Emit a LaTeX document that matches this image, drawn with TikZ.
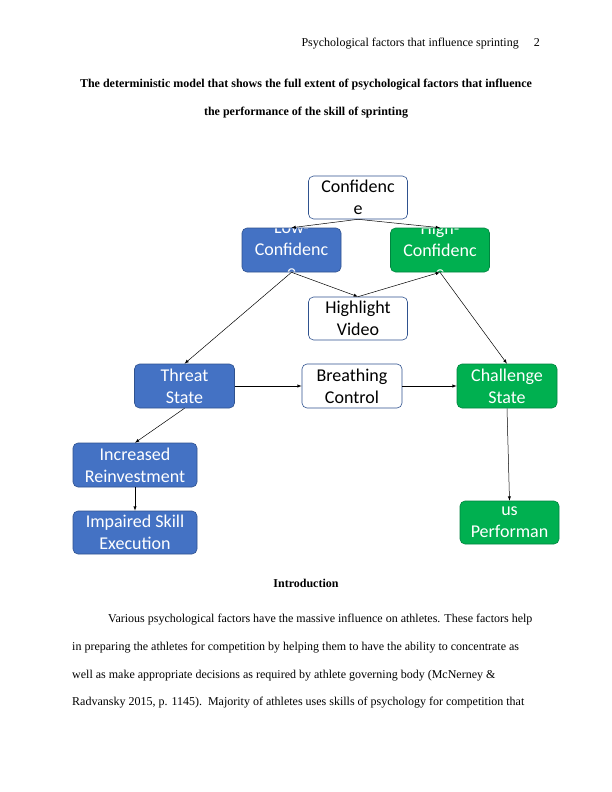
\documentclass[tikz,border=0pt]{standalone}
\usepackage{fontspec}
\setmainfont{Liberation Serif}
\newfontfamily\boxfont{Carlito}
\usetikzlibrary{arrows}
\definecolor{boxblue}{HTML}{4472C4}
\definecolor{boxgreen}{HTML}{00B050}
\definecolor{edgeblue}{HTML}{2F528F}
\definecolor{edgegreen}{HTML}{00843F}

\begin{document}
\begin{tikzpicture}[x=1pt,y=-1pt,>=latex,
  block/.style={rounded corners=5pt,minimum width=99pt,minimum height=43pt,inner sep=0pt,align=center,
    font=\boxfont\fontsize{18}{22}\selectfont,line width=0.6pt},
  whiteblock/.style={block,draw=edgeblue,fill=white,text=black},
  blueblock/.style={block,draw=edgeblue,fill=boxblue,text=white},
  greenblock/.style={block,draw=edgegreen,fill=boxgreen,text=white},
  cuttext/.style={path picture={\node[align=center,text=white,font=\boxfont\fontsize{18}{22}\selectfont]
    at (path picture bounding box.center) {#1};}},
  body/.style={font=\fontsize{12}{14}\selectfont,inner sep=0pt},
  link/.style={->,line width=0.5pt}]
\useasboundingbox (0,0) rectangle (612,792);
\fill[white] (0,0) rectangle (612,792);

% header and title
\node[body,anchor=base east] (head) at (519,47) {Psychological factors that influence sprinting};
\node[body,anchor=base east] (page) at (540,47) {2};
\node[body,anchor=base,font=\bfseries\fontsize{12}{14}\selectfont] (title1) at (306,87) {The deterministic model that shows the full extent of psychological factors that influence};
\node[body,anchor=base,font=\bfseries\fontsize{12}{14}\selectfont] (title2) at (306,115) {the performance of the skill of sprinting};

% model
\node[whiteblock] (conf) at (358,197.5) {Confidenc\\e};
\node[blueblock,minimum height=44pt,cuttext={Low-\\Confidenc\\e}] (low) at (291.5,250) {};
\node[greenblock,minimum height=44pt,cuttext={High-\\Confidenc\\e}] (high) at (440,250) {};
\node[whiteblock] (video) at (358,318.5) {Highlight\\Video};
\node[blueblock,minimum width=100pt,minimum height=44pt] (threat) at (184.5,386) {Threat\\State};
\node[whiteblock,minimum width=100pt,minimum height=44pt] (breath) at (352,386) {Breathing\\Control};
\node[greenblock,minimum width=100pt,minimum height=44pt] (chall) at (507,386) {Challenge\\State};
\node[blueblock,minimum width=124pt,minimum height=44pt] (reinv) at (135,465) {Increased\\Reinvestment};
\node[blueblock,minimum width=124pt] (impair) at (135,532.5) {Impaired Skill\\Execution};
\node[greenblock] (perf) at (509.5,522.5) {us\\Performan};

\draw[link] (conf.south) -- (low.north);
\draw[link] (conf.south) -- (high.north);
\draw[link] (low.south) -- (video.north);
\draw[link] (video.north) -- (high.south);
\draw[link] (low.south) -- (threat.north);
\draw[link] (high.south) -- (chall.north);
\draw[link] (threat) -- (breath);
\draw[link] (breath) -- (chall);
\draw[link] (threat.south) -- (reinv.north);
\draw[link] (reinv) -- (impair);
\draw[link] (chall.south) -- (perf.north);

% text below
\node[body,anchor=base,font=\bfseries\fontsize{12}{14}\selectfont] (intro) at (306,587) {Introduction};
\node[body,anchor=base west] (line1) at (108,622) {Various psychological factors have the massive influence on athletes. These factors help};
\node[body,anchor=base west] (line2) at (72,650) {in preparing the athletes for competition by helping them to have the ability to concentrate as};
\node[body,anchor=base west] (line3) at (72,678) {well as make appropriate decisions as required by athlete governing body (McNerney \&};
\node[body,anchor=base west] (line4) at (72,705) {Radvansky 2015, p. 1145).\ \ Majority of athletes uses skills of psychology for competition that};
\end{tikzpicture}
\end{document}
